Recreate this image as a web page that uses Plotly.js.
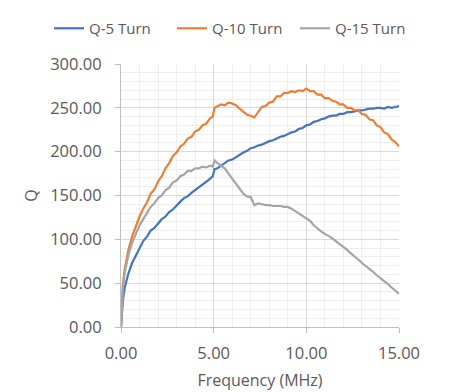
<!DOCTYPE html>
<html>
<head>
<meta charset="utf-8">
<script src="https://cdn.plot.ly/plotly-3.0.1.min.js"></script>
<style>html,body{margin:0;padding:0;background:#fff;}#chart{width:474px;height:392px;}</style>
</head>
<body>
<div id="chart"></div>
<script>
const freqMHz = [0, 0.05, 0.1, 0.2, 0.3, 0.4, 0.6, 0.8,
  1.0, 1.2, 1.4, 1.6, 1.8, 2.0, 2.2, 2.4, 2.6, 2.8, 3.0, 3.2, 3.4, 3.6, 3.8, 4.0, 4.2, 4.4, 4.6, 4.8,
  4.95, 5.05,
  5.2, 5.4, 5.6, 5.8, 6.0, 6.2, 6.4, 6.6, 6.8, 7.0, 7.2, 7.4, 7.6, 7.8, 8.0, 8.2, 8.4, 8.6, 8.8, 9.0,
  9.2, 9.4, 9.6, 9.8, 10.0, 10.2, 10.4, 10.6, 10.8, 11.0, 11.2, 11.4, 11.6, 11.8, 12.0, 12.2, 12.4, 12.6, 12.8, 13.0,
  13.2, 13.4, 13.6, 13.8, 14.0, 14.2, 14.4, 14.6, 14.8, 15.0];

const q5Turn = [0, 18, 30, 45, 54, 61, 73, 82,
  90, 98, 103, 110, 113, 118, 123, 126, 131, 134, 139, 143, 147, 149, 153, 156, 160, 162, 166, 169,
  172, 180,
  181, 184, 186, 190, 191, 194, 196, 199, 201, 204, 205, 207, 208, 210, 212, 213, 215, 217, 218, 220,
  222, 223, 226, 227, 230, 231, 234, 235, 237, 238, 240, 241, 241, 243, 243, 245, 245, 246, 247, 247,
  248, 249, 249, 250, 250, 249, 251, 250, 251, 252];

const q10Turn = [0, 30, 48, 66, 78, 88, 103, 115,
  126, 135, 142, 152, 157, 166, 172, 181, 187, 195, 199, 206, 209, 215, 217, 223, 225, 230, 232, 238,
  240, 250,
  252, 254, 253, 256, 255, 253, 249, 246, 242, 241, 239, 245, 251, 252, 256, 257, 263, 263, 267, 267,
  269, 268, 270, 269, 272, 269, 269, 265, 265, 261, 261, 258, 257, 254, 254, 250, 250, 247, 247, 243,
  242, 237, 236, 230, 228, 222, 220, 214, 211, 206];

const q15Turn = [0, 28, 45, 62, 73, 82, 96, 107,
  116, 123, 130, 137, 141, 147, 150, 156, 159, 165, 167, 172, 174, 178, 178, 181, 181, 183, 182, 184,
  183, 190,
  187, 184, 181, 175, 169, 164, 158, 152, 149, 148, 139, 141, 140, 139, 139, 138, 138, 138, 137, 137,
  135, 132, 130, 127, 124, 121, 116, 112, 109, 106, 104, 101, 98, 95, 91, 88, 84, 81, 77, 73,
  70, 66, 63, 59, 56, 52, 49, 45, 42, 38];

const seriesNames = ['Q-5 Turn', 'Q-10 Turn', 'Q-15 Turn'];
const seriesColors = ['#4472C4', '#ED7D31', '#A5A5A5'];
const seriesValues = [q5Turn, q10Turn, q15Turn];

const traces = seriesValues.map((vals, i) => ({
  x: freqMHz, y: vals, type: 'scatter', mode: 'lines', name: seriesNames[i],
  line: {color: seriesColors[i], width: 2.2}
}));

const fontFam = '"Open Sans", "Liberation Sans", sans-serif';
const layout = {
  width: 474, height: 392,
  margin: {l: 121, r: 75, t: 60, b: 65},
  paper_bgcolor: '#fff', plot_bgcolor: '#fff',
  font: {family: fontFam, color: '#595959', size: 16},
  showlegend: true,
  legend: {orientation: 'h', xref: 'paper', yref: 'paper', x: (49 - 121) / 278, xanchor: 'left',
    y: 1 + (60 - 24) / 267, yanchor: 'middle',
    font: {size: 15, color: '#595959'}, itemwidth: 30, entrywidth: 78, tracegroupgap: 0,
    bgcolor: 'rgba(0,0,0,0)'},
  xaxis: {range: [0, 15], dtick: 5, tick0: 0, tickformat: '.2f', showline: true, linecolor: '#bfbfbf', linewidth: 1,
    ticks: 'outside', ticklen: 5, tickcolor: '#bfbfbf', showgrid: true, gridcolor: '#d9d9d9', zeroline: false,
    ticklabelstandoff: 6, tickfont: {size: 16.5, color: '#595959'},
    minor: {dtick: 1, showgrid: true, gridcolor: '#eeeeee', ticks: ''},
    title: {text: 'Frequency (MHz)', font: {size: 16, color: '#595959'}, standoff: 12}, fixedrange: true},
  yaxis: {range: [0, 300], dtick: 50, tick0: 0, tickformat: '.2f', showline: true, linecolor: '#bfbfbf', linewidth: 1,
    ticks: 'outside', ticklen: 5, tickcolor: '#bfbfbf', showgrid: true, gridcolor: '#d9d9d9', zeroline: false,
    ticklabelstandoff: 10, tickfont: {size: 16.5, color: '#595959'},
    minor: {dtick: 10, showgrid: true, gridcolor: '#eeeeee', ticks: ''},
    title: {text: 'Q', font: {size: 16, color: '#595959'}, standoff: 8}, fixedrange: true}
};

Plotly.newPlot('chart', traces, layout, {displayModeBar: false, staticPlot: true});
</script>
</body>
</html>
